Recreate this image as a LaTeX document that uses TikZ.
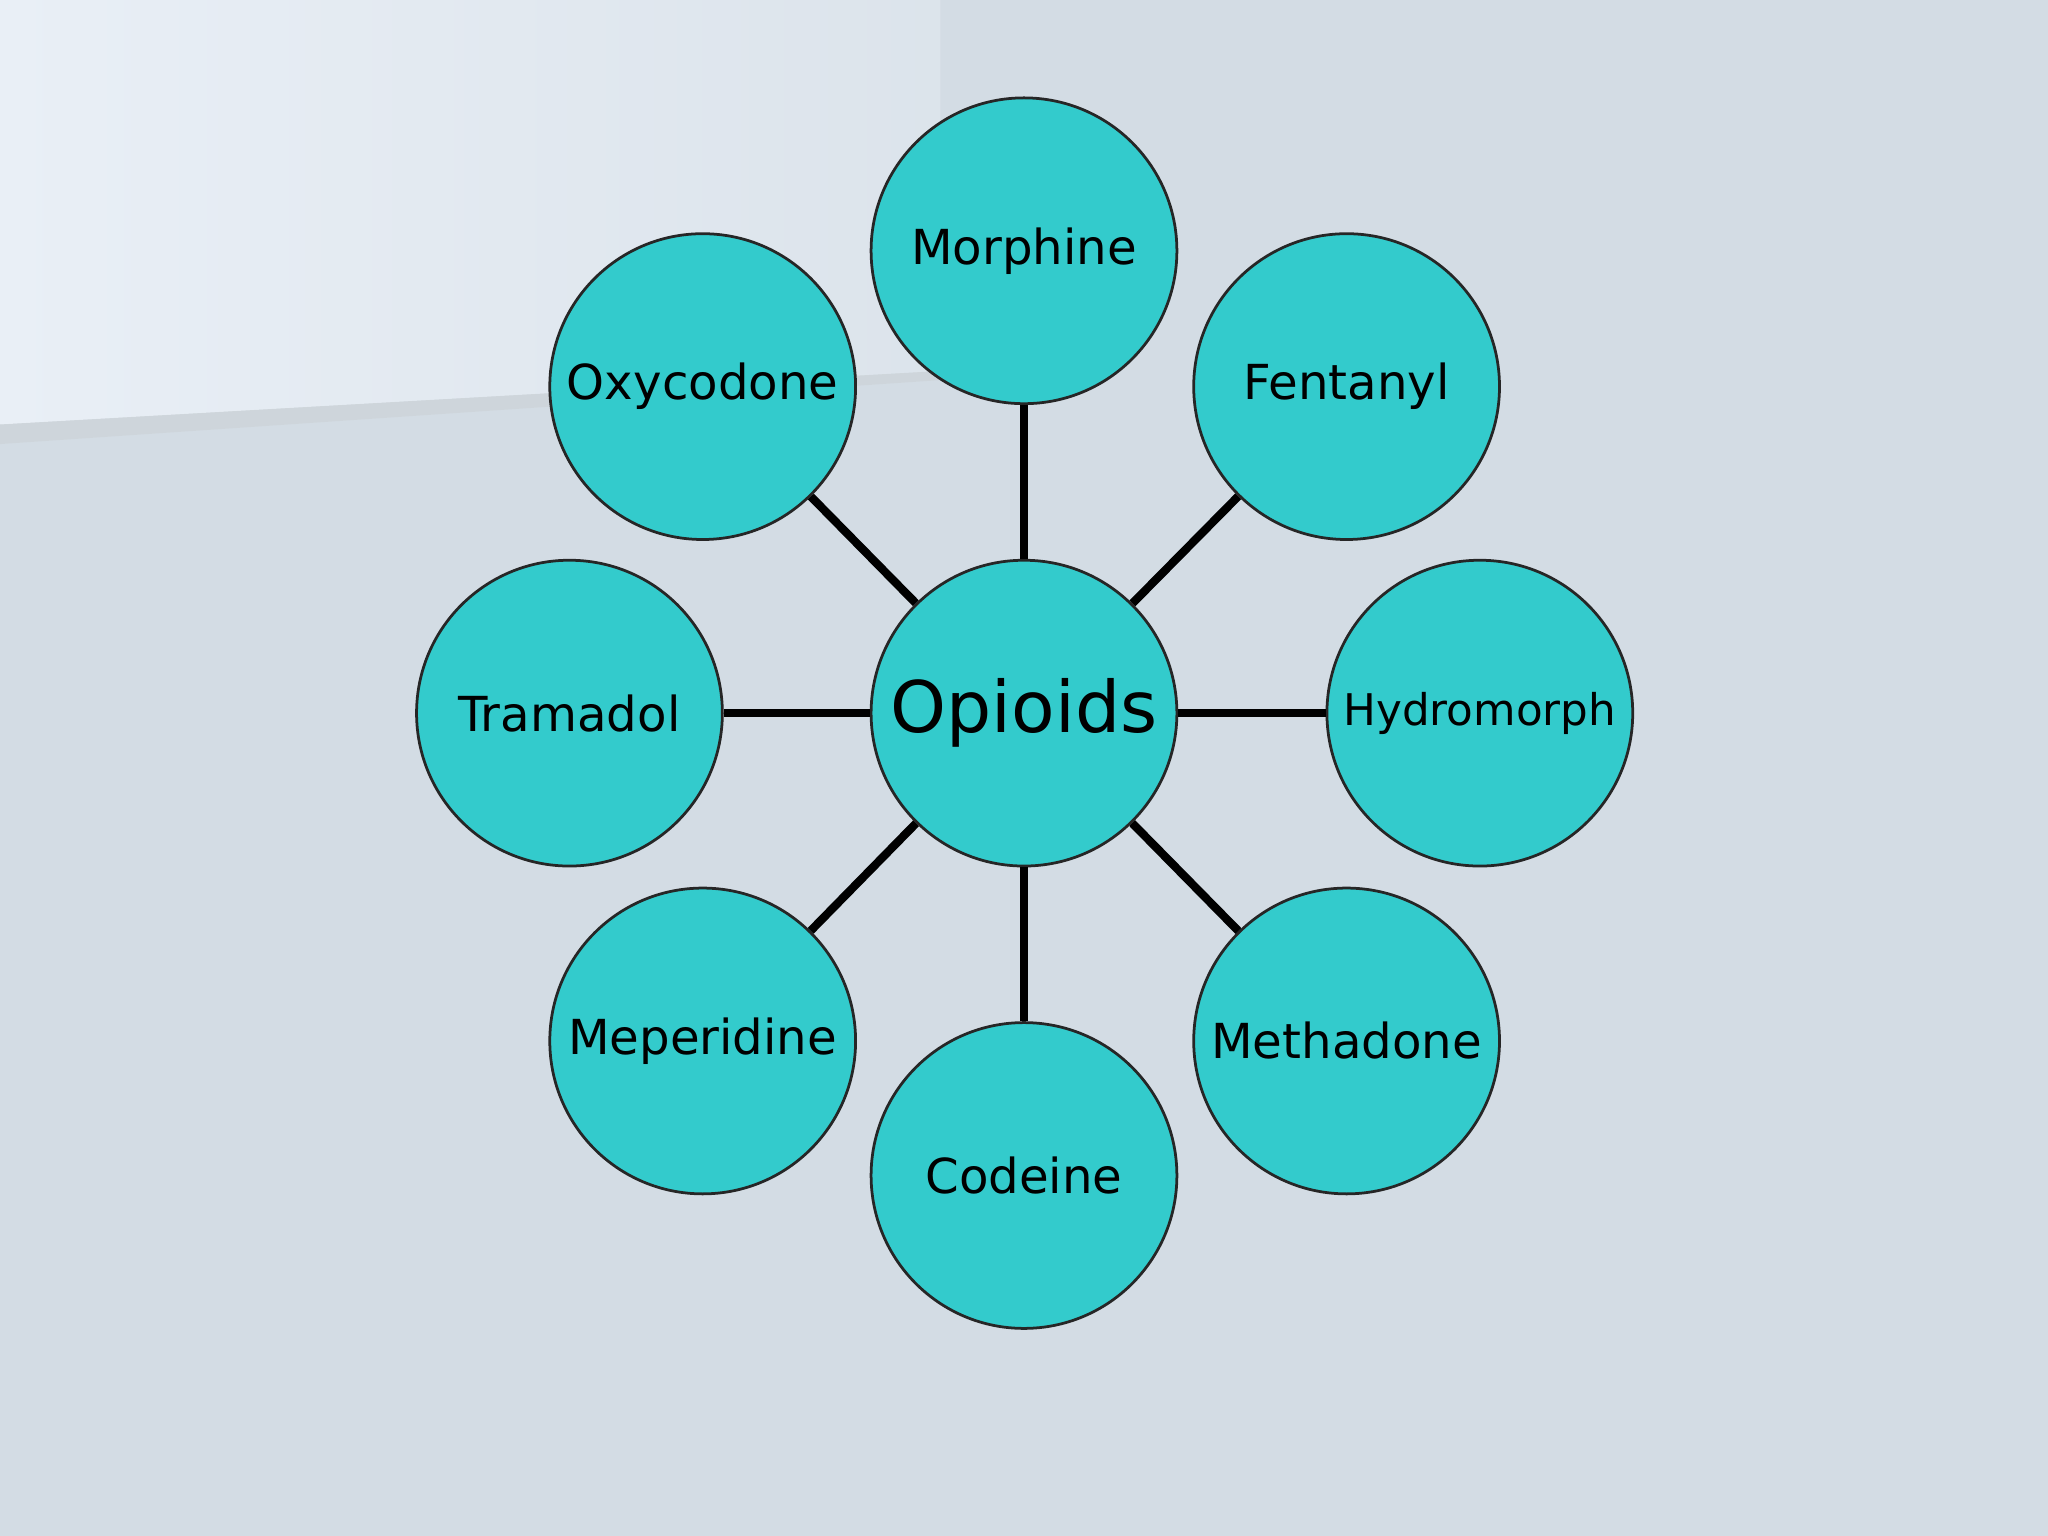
\documentclass[tikz,border=0pt]{standalone}
\usepackage{fontspec}
\setmainfont{DejaVu Sans}
\begin{document}
\begin{tikzpicture}[x=0.01cm,y=-0.01cm,
  bub/.style={circle,draw=black!85,line width=0.6pt,fill=bubc,minimum size=2.34cm,inner sep=0pt,font=\fontsize{10.5}{12}\selectfont},
  link/.style={line width=1.8pt,black}]
\definecolor{bubc}{HTML}{33CBCC}
\definecolor{bgA}{HTML}{E9EFF6}
\definecolor{bgB}{HTML}{D3DCE4}
\useasboundingbox (0,0) rectangle (1568,1176);
\fill[bgB] (0,0) rectangle (1568,1176);
\shade[left color=bgA,right color=bgB!60!bgA] (0,0) -- (720,0) -- (720,284) -- (0,325) -- cycle;
\fill[bgB!80!black!60!white,opacity=0.5] (0,325) -- (720,284) -- (720,291) -- (0,340) -- cycle;
\node[bub,font=\fontsize{15.5}{18}\selectfont] (c) at (784,546) {Opioids};
\node[bub] (m) at (784,192) {Morphine};
\node[bub] (o) at (538,296) {Oxycodone};
\node[bub] (f) at (1031,296) {Fentanyl};
\node[bub] (t) at (436,546) {Tramadol};
\node[bub,font=\fontsize{9.5}{11}\selectfont] (h) at (1133,546) {Hydromorph};
\node[bub] (p) at (538,797) {Meperidine};
\node[bub] (d) at (1031,797) {Methadone};
\node[bub] (k) at (784,900) {Codeine};
\foreach \n in {m,o,f,t,h,p,d,k} \draw[link] (c) -- (\n);
\end{tikzpicture}
\end{document}
